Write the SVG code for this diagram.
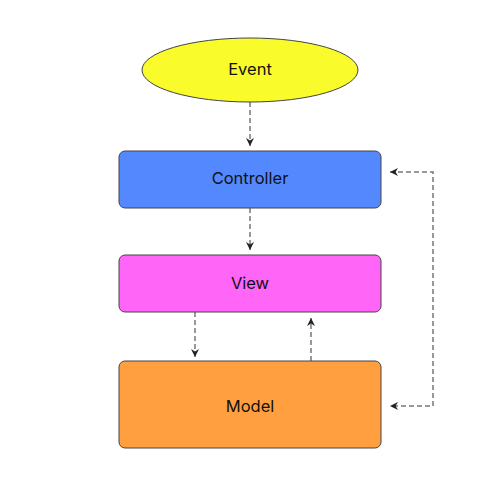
<svg xmlns="http://www.w3.org/2000/svg" width="500" height="500" viewBox="0 0 500 500">
<defs>
<style>
.n{stroke:#444;stroke-width:1}
.t{font-family:Inter,"Liberation Sans",sans-serif;font-size:16.5px;fill:#111;text-anchor:middle;dominant-baseline:central}
.c{fill:none;stroke:#777;stroke-width:1.5;stroke-dasharray:5,3}
</style>
<marker id="ah" viewBox="0 0 10 10" refX="10" refY="5" markerWidth="8" markerHeight="8" markerUnits="userSpaceOnUse" orient="auto-start-reverse">
<path d="M0,0 L10,5 L0,10 L3,5 Z" fill="#222"/>
</marker>
</defs>
<rect width="500" height="500" fill="#fff"/>
<g id="connectors">
<path class="c" d="M250,102 V146" marker-end="url(#ah)"/>
<path class="c" d="M250,208 V250" marker-end="url(#ah)"/>
<path class="c" d="M195,312 V357" marker-end="url(#ah)"/>
<path class="c" d="M311,361 V318" marker-end="url(#ah)"/>
<path class="c" d="M390,172 H433 V406 H390" marker-start="url(#ah)" marker-end="url(#ah)"/>
</g>
<g id="event">
<ellipse class="n" cx="250" cy="70" rx="108" ry="32" fill="#f9fb2a"/>
<text class="t" x="250" y="69">Event</text>
</g>
<g id="controller">
<rect class="n" x="119" y="151" width="262" height="57" rx="6" fill="#5488ff"/>
<text class="t" x="250" y="178">Controller</text>
</g>
<g id="view">
<rect class="n" x="119" y="255" width="262" height="57" rx="6" fill="#ff66f8"/>
<text class="t" x="250" y="282.5">View</text>
</g>
<g id="model">
<rect class="n" x="119" y="361" width="262" height="87" rx="6" fill="#ff9f40"/>
<text class="t" x="250" y="406">Model</text>
</g>
</svg>
